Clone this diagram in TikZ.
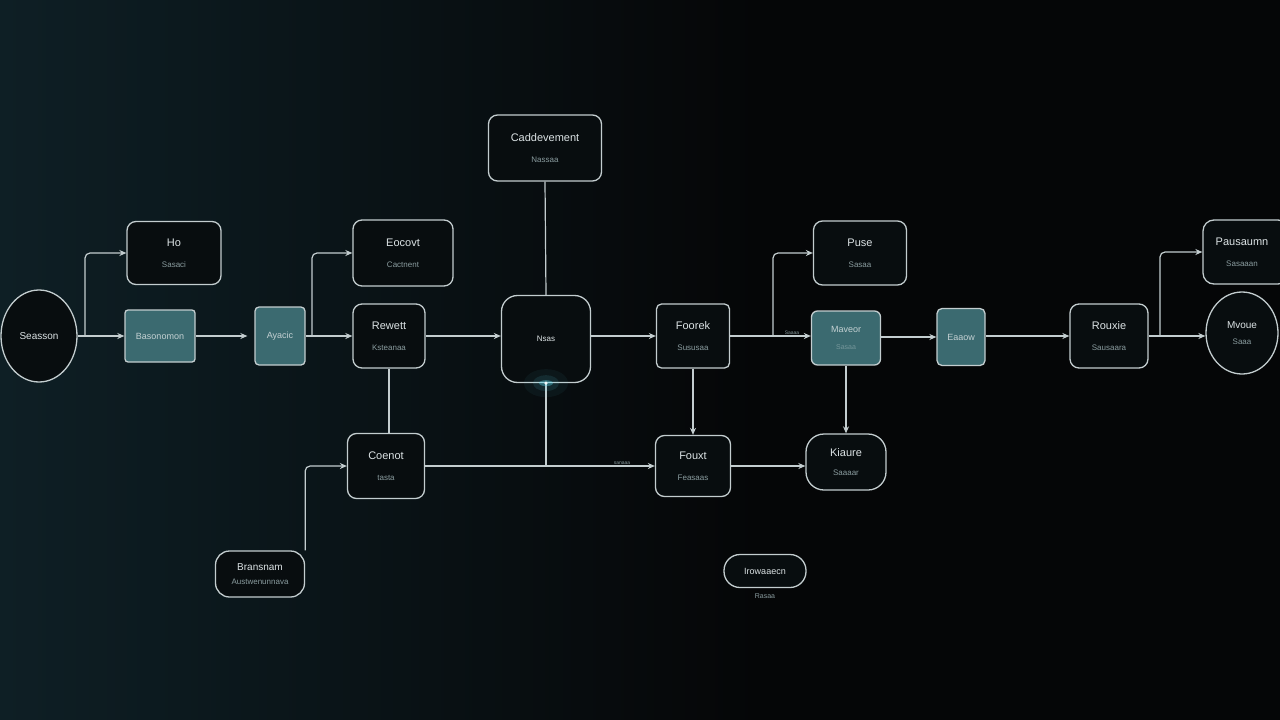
\documentclass[tikz,border=0pt]{standalone}
\usepackage{fontspec}
\setmainfont{Liberation Sans}
\usetikzlibrary{arrows.meta,shapes.geometric,shapes.misc,calc}
\definecolor{bgL}{HTML}{0E1F25}
\definecolor{bgR}{HTML}{050607}
\definecolor{linec}{HTML}{C3CDCF}
\definecolor{boxf}{HTML}{080D0F}
\definecolor{tealf}{HTML}{3B6A70}
\definecolor{txt}{HTML}{DCE3E5}
\definecolor{subc}{HTML}{8A9C9F}
\definecolor{glowc}{HTML}{5FE0F5}
\begin{document}
\begin{tikzpicture}[x=1pt,y=-1pt,
  box/.style={draw=linec, line width=1.3pt, rounded corners=9pt, fill=boxf,
    align=center, inner sep=0pt, text=txt, font=\fontsize{11}{13}\selectfont},
  tbox/.style={box, fill=tealf, text=txt!85!tealf, font=\fontsize{9}{11}\selectfont},
  oval/.style={draw=linec, line width=1.3pt, fill=boxf, ellipse, inner sep=0pt,
    align=center, text=txt, font=\fontsize{10}{12}\selectfont},
  ln/.style={draw=linec, line width=1.2pt},
  arr/.style={ln, -{Stealth[length=7pt,width=6pt]}},
  tiny/.style={text=subc, font=\fontsize{5}{6}\selectfont, inner sep=1pt}
]
\newcommand{\sublab}[1]{{\color{subc}\fontsize{8}{9}\selectfont #1}}
% background
\useasboundingbox (0,0) rectangle (1280,720);
\fill[bgR] (0,0) rectangle (1280,720);
\fill[left color=bgL, right color=bgR] (0,0) rectangle (760,720);

% nodes
\node[oval, minimum width=76pt, minimum height=92pt] (Sea) at (39,336) {Seasson};
\node[box, minimum width=94pt, minimum height=63pt] (Ho) at (174,253) {Ho\\[8pt]\sublab{Sasaci}};
\node[tbox, minimum width=70pt, minimum height=52pt, rounded corners=3pt] (Bas) at (160,336) {Basonomon};
\node[tbox, minimum width=50pt, minimum height=58pt, rounded corners=4pt] (Aya) at (280,336) {Ayacic};
\node[box, minimum width=100pt, minimum height=66pt] (Eoc) at (403,253) {Eocovt\\[8pt]\sublab{Cactnent}};
\node[box, minimum width=72pt, minimum height=64pt] (Rew) at (389,336) {Rewett\\[8pt]\sublab{Ksteanaa}};
\node[box, minimum width=113pt, minimum height=66pt] (Cad) at (545,148) {Caddevement\\[8pt]\sublab{Nassaa}};
\node[box, minimum width=89pt, minimum height=87pt, rounded corners=16pt, font=\fontsize{8}{10}\selectfont] (Nsa) at (546,339) {Nsas};
\node[box, minimum width=77pt, minimum height=65pt] (Coe) at (386,466) {Coenot\\[8pt]\sublab{tasta}};
\node[box, minimum width=89pt, minimum height=46pt, rounded corners=14pt, font=\fontsize{10}{12}\selectfont] (Bra) at (260,574) {Bransnam\\[2pt]\sublab{Austwenunnava}};
\node[box, minimum width=73pt, minimum height=64pt, rounded corners=5pt] (Foo) at (693,336) {Foorek\\[8pt]\sublab{Sususaa}};
\node[box, minimum width=93pt, minimum height=64pt] (Pus) at (860,253) {Puse\\[8pt]\sublab{Sasaa}};
\node[tbox, minimum width=69pt, minimum height=54pt, rounded corners=6pt] (Mav) at (846,338) {Maveor\\[6pt]{\color{tealf!70!white}\fontsize{7}{8}\selectfont Sasaa}};
\node[tbox, minimum width=48pt, minimum height=57pt, rounded corners=5pt] (Eaa) at (961,337) {Eaaow};
\node[box, minimum width=75pt, minimum height=61pt] (Fou) at (693,466) {Fouxt\\[8pt]\sublab{Feasaas}};
\node[box, minimum width=80pt, minimum height=56pt, rounded corners=18pt] (Kia) at (846,462) {Kiaure\\[6pt]\sublab{Saaaar}};
\node[box, minimum width=82pt, minimum height=33pt, rounded corners=16pt, font=\fontsize{9}{11}\selectfont,
  label={[tiny, font=\fontsize{7}{8}\selectfont, yshift=-4pt]below:Rasaa}] (Iro) at (765,571) {Irowaaecn};
\node[box, minimum width=78pt, minimum height=64pt] (Rou) at (1109,336) {Rouxie\\[8pt]\sublab{Sausaara}};
\node[box, minimum width=86pt, minimum height=64pt, rounded corners=11pt] (Pau) at (1246,252) {\hspace*{-8pt}Pausaumn\\[8pt]\hspace*{-8pt}\sublab{Sasaaan}};
\node[oval, minimum width=72pt, minimum height=82pt] (Mvo) at (1242,333) {Mvoue\\[4pt]\sublab{Saaa}};

% junctions
\coordinate (j1) at (85,336);
\coordinate (j2) at (312,336);
\coordinate (j3) at (546,466);
\coordinate (j4) at (773,336);
\coordinate (j5) at (1160,336);

% connectors
\draw[ln] (Sea.east) -- (j1);
\draw[arr, rounded corners=5pt] (j1) |- (Ho.west);
\draw[arr] (j1) -- (Bas.west);
\draw[arr, shorten >=7pt] (Bas.east) -- (Aya.west);
\draw[ln] (Aya.east) -- (j2);
\draw[arr, rounded corners=5pt] (j2) |- (Eoc.west);
\draw[arr] (j2) -- (Rew.west);
\draw[arr] (Rew.east) -- (Rew.east -| Nsa.west);
\draw[ln] (Cad.south) -- (Nsa.north);
\draw[ln] (Rew.south) -- (Rew.south |- Coe.north);
\draw[ln] (Nsa.south) -- (j3);
\draw[arr] (Coe.east) -- (Fou.west);
\node[tiny, above] (lab1) at (622,466) {sanaaa};
\draw[arr] (Nsa.east |- Foo.west) -- (Foo.west);
\draw[ln] (Foo.east) -- (j4);
\draw[arr, rounded corners=5pt] (j4) |- (Pus.west);
\draw[arr] (j4) -- (Mav.west |- j4);
\node[tiny, above] (lab2) at (792,336) {Saaaa};
\draw[arr] (Foo.south) -- (Fou.north);
\draw[arr] (Mav.south) -- (Kia.north);
\draw[arr] (Mav.east |- Eaa.west) -- (Eaa.west);
\draw[arr] (Fou.east) -- (Fou.east -| Kia.west);
\draw[arr] (Eaa.east |- Rou.west) -- (Rou.west);
\draw[ln] (Rou.east) -- (j5);
\draw[arr, rounded corners=5pt] (j5) |- (Pau.west);
\draw[arr] (j5) -- (j5 -| Mvo.west);
\draw[arr, rounded corners=5pt] (Bra.north east) |- (Coe.west);

% glow under central node
\fill[glowc, opacity=0.05] (Nsa.south) ellipse (22pt and 14pt);
\fill[glowc, opacity=0.10] (Nsa.south) ellipse (13pt and 8pt);
\fill[glowc, opacity=0.35] (Nsa.south) ellipse (7pt and 3pt);
\fill[white, opacity=0.9] (Nsa.south) circle (1.8pt);
\end{tikzpicture}
\end{document}
